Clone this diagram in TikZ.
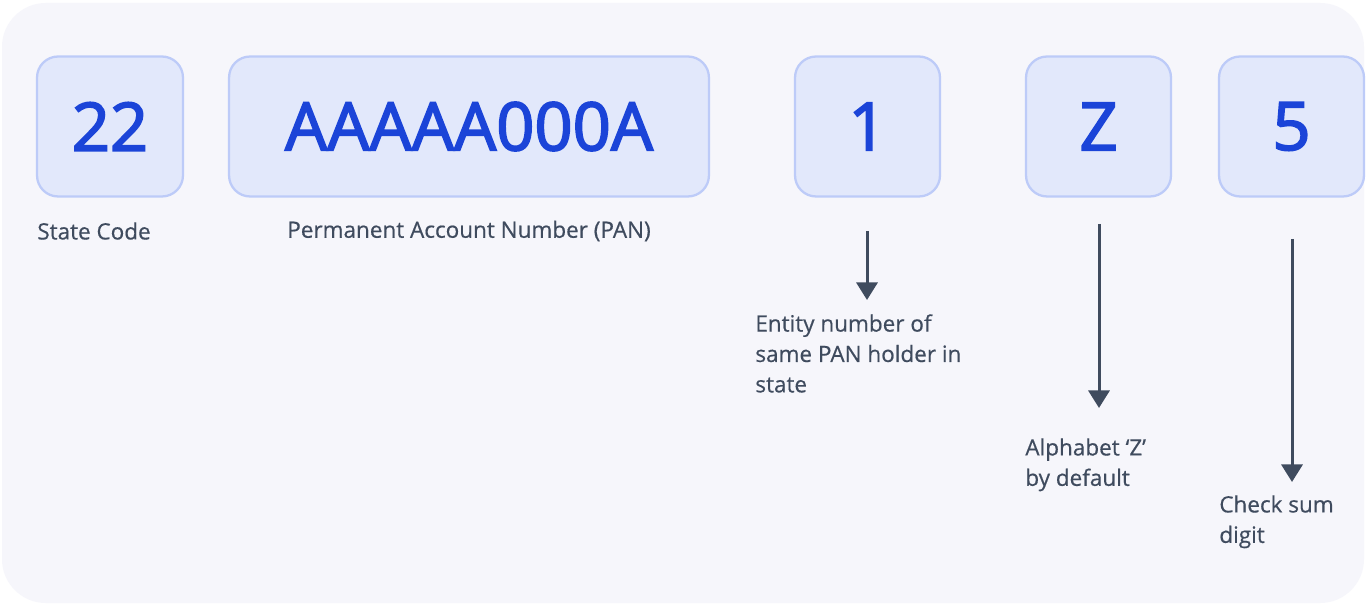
\documentclass[tikz,border=0pt]{standalone}
\usepackage{fontspec}
\setmainfont{Open Sans}
\newfontfamily\digitfont[FakeBold=2.6]{Open Sans}
\newfontfamily\labelfont[FakeBold=0.5]{Open Sans}
\usepackage{tikz}
\usetikzlibrary{arrows.meta}

\definecolor{bgpanel}{HTML}{F6F6FB}
\definecolor{boxfill}{HTML}{E2E8FB}
\definecolor{boxline}{HTML}{BDCBF8}
\definecolor{digitblue}{HTML}{1B44D8}
\definecolor{labelgray}{HTML}{3F4B5E}

\tikzset{
  part/.style={draw=boxline, line width=1.3pt, fill=boxfill, rounded corners=12pt,
    minimum height=2.8cm, text=digitblue, font=\digitfont\fontsize{38}{40}\selectfont},
  caption/.style={text=labelgray, font=\labelfont\fontsize{12.8}{17.3}\selectfont, inner sep=0pt},
  pointer/.style={draw=labelgray, line width=1.7pt, -{Triangle[length=10pt,width=12pt]}}
}

\begin{document}
\begin{tikzpicture}[x=0.02cm,y=-0.02cm]
  \useasboundingbox (0,0) rectangle (1366,604);
  \fill[white] (0,0) rectangle (1366,604);
  \fill[bgpanel, rounded corners=25pt] (2,3) rectangle (1364,603);

  % the five parts of the number
  \node[part, minimum width=2.92cm] (state) at (110,126.5) {22};
  \node[part, minimum width=9.6cm] (pan) at (469,126.5) {AAAAA000A};
  \node[part, minimum width=2.9cm] (entity) at (867.5,126.5) {1};
  \node[part, minimum width=2.9cm] (alpha) at (1098.5,126.5) {Z};
  \node[part, minimum width=2.9cm] (check) at (1291.5,126.5) {5};

  % captions right under the boxes
  \node[caption, anchor=west] (statetxt) at (37,231) {State Code};
  \node[caption] (pantxt) at (469,231) {Permanent Account Number (PAN)};

  % captions further down
  \node[caption, anchor=north west, align=left] (entitytxt) at (755,314)
    {Entity number of\\same PAN holder in\\state};
  \node[caption, anchor=north west, align=left] (alphatxt) at (1025,438)
    {Alphabet ‘Z’\\by default};
  \node[caption, anchor=north west, align=left] (checktxt) at (1219,495)
    {Check sum\\digit};

  \coordinate (e1) at (867,231);
  \coordinate (e2) at (867,300);
  \coordinate (a1) at (1099,224);
  \coordinate (a2) at (1099,408);
  \coordinate (c1) at (1292,239);
  \coordinate (c2) at (1292,482);
  \draw[pointer] (e1) -- (e2);
  \draw[pointer] (a1) -- (a2);
  \draw[pointer] (c1) -- (c2);
\end{tikzpicture}
\end{document}
